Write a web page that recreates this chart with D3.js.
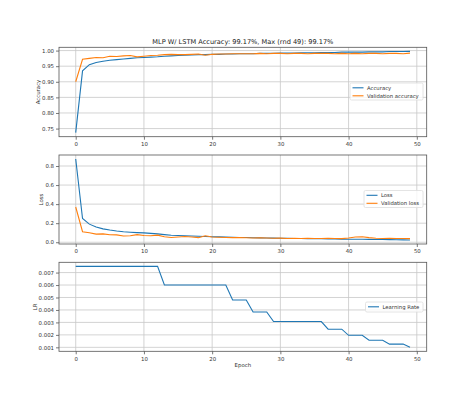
<!DOCTYPE html>
<html>
<head>
<meta charset="utf-8">
<script src="https://cdn.jsdelivr.net/npm/d3@7"></script>
<style>
  body { margin: 0; background: #fff; }
  svg { font-family: "DejaVu Sans", sans-serif; }
</style>
</head>
<body>
<div id="chart"></div>
<script>
const epochs = d3.range(0, 50);
const acc = [0.737, 0.935, 0.955, 0.962, 0.966, 0.969, 0.971, 0.973, 0.975, 0.977,
    0.978, 0.979, 0.980, 0.982, 0.983, 0.984, 0.985, 0.986, 0.987, 0.987,
    0.988, 0.988, 0.989, 0.989, 0.990, 0.990, 0.990, 0.991, 0.991, 0.991,
    0.992, 0.992, 0.992, 0.993, 0.993, 0.993, 0.994, 0.994, 0.994, 0.995,
    0.995, 0.995, 0.995, 0.996, 0.996, 0.996, 0.997, 0.997, 0.997, 0.9975];
const valAcc = [0.900, 0.972, 0.975, 0.978, 0.977, 0.982, 0.981, 0.983, 0.984, 0.980,
    0.982, 0.984, 0.985, 0.987, 0.988, 0.987, 0.987, 0.988, 0.989, 0.985,
    0.988, 0.989, 0.989, 0.990, 0.990, 0.990, 0.990, 0.991, 0.990, 0.991,
    0.991, 0.990, 0.991, 0.991, 0.990, 0.991, 0.991, 0.991, 0.990, 0.991,
    0.990, 0.991, 0.990, 0.991, 0.991, 0.990, 0.991, 0.991, 0.990, 0.9917];
const loss = [0.873, 0.249, 0.190, 0.160, 0.140, 0.128, 0.118, 0.110, 0.105, 0.101,
    0.098, 0.093, 0.088, 0.080, 0.073, 0.070, 0.068, 0.066, 0.063, 0.060,
    0.058, 0.056, 0.054, 0.052, 0.050, 0.049, 0.047, 0.046, 0.045, 0.043,
    0.042, 0.041, 0.040, 0.039, 0.038, 0.037, 0.036, 0.035, 0.034, 0.033,
    0.032, 0.031, 0.031, 0.030, 0.029, 0.028, 0.027, 0.026, 0.025, 0.024];
const valLoss = [0.370, 0.110, 0.100, 0.085, 0.088, 0.078, 0.077, 0.065, 0.068, 0.080,
    0.070, 0.068, 0.075, 0.058, 0.050, 0.055, 0.060, 0.055, 0.048, 0.068,
    0.055, 0.052, 0.050, 0.048, 0.050, 0.047, 0.045, 0.046, 0.044, 0.042,
    0.043, 0.040, 0.041, 0.040, 0.042, 0.040, 0.039, 0.041, 0.040, 0.038,
    0.045, 0.055, 0.058, 0.048, 0.042, 0.040, 0.041, 0.040, 0.039, 0.038];
const lr = [0.0075, 0.0075, 0.0075, 0.0075, 0.0075, 0.0075, 0.0075, 0.0075, 0.0075, 0.0075,
    0.0075, 0.0075, 0.0075, 0.006, 0.006, 0.006, 0.006, 0.006, 0.006, 0.006,
    0.006, 0.006, 0.006, 0.0048, 0.0048, 0.0048, 0.00384, 0.00384, 0.00384, 0.003072,
    0.003072, 0.003072, 0.003072, 0.003072, 0.003072, 0.003072, 0.003072, 0.0024576, 0.0024576, 0.0024576,
    0.00196608, 0.00196608, 0.00196608, 0.00157286, 0.00157286, 0.00157286, 0.00125829, 0.00125829, 0.00125829, 0.00100663];

const xTicks = [0, 10, 20, 30, 40, 50];
const accTicks = [0.75, 0.80, 0.85, 0.90, 0.95, 1.00];
const lossTicks = [0.0, 0.2, 0.4, 0.6, 0.8];
const lrTicks = [0.001, 0.002, 0.003, 0.004, 0.005, 0.006, 0.007];
const title = "MLP W/ LSTM Accuracy: 99.17%, Max (rnd 49): 99.17%";

const W = 474, H = 395;
const left = 59, right = 426.7;
const blue = "#1f77b4", orange = "#ff7f0e";
const fs = "5.4px";

const svg = d3.select("#chart").append("svg")
    .attr("width", W)
    .attr("height", H);

// matplotlib style 5% margins
function pad(lo, hi) {
    const m = (hi - lo) * 0.05;
    return [lo - m, hi + m];
}

const x = d3.scaleLinear().domain(pad(0, 49)).range([left, right]);

const panels = [
    {top: 47.3, bottom: 136.7, series: [acc, valAcc], names: ["Accuracy", "Validation accuracy"],
     colors: [blue, orange], ticks: accTicks, fmt: d3.format(".2f"), label: "Accuracy", labelX: 38.5,
     legend: {x: 350, y: 83, w: 73, h: 17}},
    {top: 155, bottom: 244, series: [loss, valLoss], names: ["Loss", "Validation loss"],
     colors: [blue, orange], ticks: lossTicks, fmt: d3.format(".1f"), label: "Loss", labelX: 41.5,
     legend: {x: 364, y: 190.5, w: 59, h: 17}},
    {top: 262.3, bottom: 351.3, series: [lr], names: ["Learning Rate"],
     colors: [blue], ticks: lrTicks, fmt: d3.format(".3f"), label: "LR", labelX: 35,
     legend: {x: 365.5, y: 302, w: 57.5, h: 10}}
];

panels.forEach(p => {
    const all = p.series.flat();
    const y = d3.scaleLinear().domain(pad(d3.min(all), d3.max(all))).range([p.bottom, p.top]);
    const g = svg.append("g");

    // grid
    g.selectAll(".gx").data(xTicks).enter().append("line")
        .attr("x1", d => x(d)).attr("x2", d => x(d))
        .attr("y1", p.top).attr("y2", p.bottom)
        .attr("stroke", "#c8c8c8").attr("stroke-width", 0.8);
    g.selectAll(".gy").data(p.ticks).enter().append("line")
        .attr("x1", left).attr("x2", right)
        .attr("y1", d => y(d)).attr("y2", d => y(d))
        .attr("stroke", "#c8c8c8").attr("stroke-width", 0.8);

    // lines
    p.series.forEach((s, i) => {
        const line = d3.line().x((d, j) => x(epochs[j])).y(d => y(d));
        g.append("path")
            .datum(s)
            .attr("fill", "none")
            .attr("stroke", p.colors[i])
            .attr("stroke-width", 1.1)
            .attr("d", line);
    });

    // frame
    g.append("rect")
        .attr("x", left).attr("y", p.top)
        .attr("width", right - left).attr("height", p.bottom - p.top)
        .attr("fill", "none").attr("stroke", "#555").attr("stroke-width", 0.8);

    // axes
    const xa = g.append("g").attr("transform", `translate(0,${p.bottom})`)
        .call(d3.axisBottom(x).tickValues(xTicks).tickSize(3).tickPadding(2.5));
    const ya = g.append("g").attr("transform", `translate(${left},0)`)
        .call(d3.axisLeft(y).tickValues(p.ticks).tickFormat(p.fmt).tickSize(3).tickPadding(2));
    [xa, ya].forEach(a => {
        a.select(".domain").remove();
        a.selectAll("line").attr("stroke", "#555").attr("stroke-width", 0.8);
        a.selectAll("text").attr("fill", "#333").style("font-size", fs).style("font-family", "DejaVu Sans");
    });

    g.append("text")
        .attr("transform", `translate(${p.labelX},${(p.top + p.bottom) / 2}) rotate(-90)`)
        .attr("text-anchor", "middle")
        .attr("dy", "0.35em")
        .style("font-size", fs)
        .attr("fill", "#333")
        .text(p.label);

    // legend
    const L = p.legend;
    const lg = g.append("g");
    lg.append("rect")
        .attr("x", L.x).attr("y", L.y).attr("width", L.w).attr("height", L.h)
        .attr("rx", 1.5)
        .attr("fill", "#fff").attr("fill-opacity", 0.8)
        .attr("stroke", "#ddd").attr("stroke-width", 0.8);
    p.names.forEach((n, i) => {
        const yy = L.y + 4.8 + i * 8;
        lg.append("line")
            .attr("x1", L.x + 2.5).attr("x2", L.x + 13.5)
            .attr("y1", yy).attr("y2", yy)
            .attr("stroke", p.colors[i]).attr("stroke-width", 1.1);
        lg.append("text")
            .attr("x", L.x + 17).attr("y", yy)
            .attr("dy", "0.35em")
            .style("font-size", "5.3px")
            .attr("fill", "#333")
            .text(n);
    });
});

svg.append("text")
    .attr("x", (left + right) / 2).attr("y", 44)
    .attr("text-anchor", "middle")
    .style("font-size", "6.6px")
    .attr("fill", "#222")
    .text(title);

svg.append("text")
    .attr("x", (left + right) / 2).attr("y", 367)
    .attr("text-anchor", "middle")
    .style("font-size", fs)
    .attr("fill", "#333")
    .text("Epoch");
</script>
</body>
</html>
